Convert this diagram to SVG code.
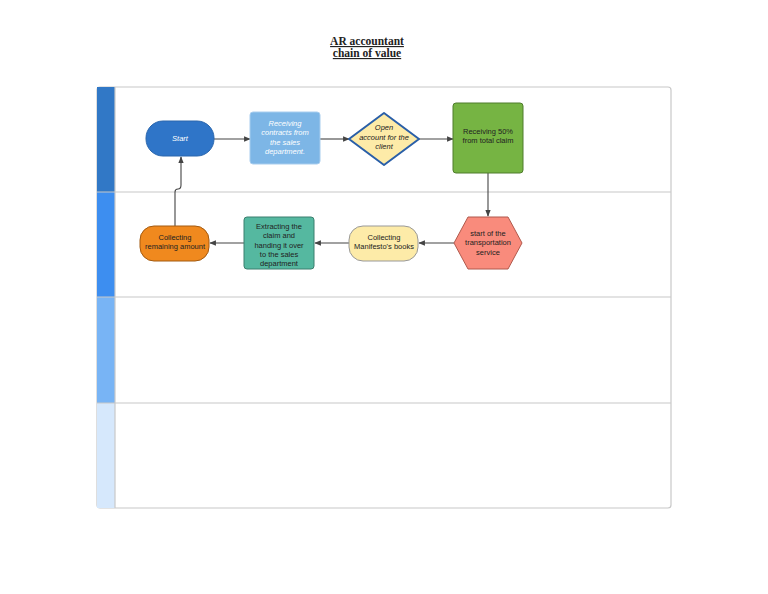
<svg xmlns="http://www.w3.org/2000/svg" width="768" height="594" viewBox="0 0 768 594">
<style>
text{font-family:"Liberation Sans",Arial,sans-serif;font-size:7.5px;fill:#222;text-anchor:middle}
.w{fill:#fff;font-style:italic}
.c{fill:none;stroke:#444;stroke-width:1.1}
.lane{fill:none;stroke:#c8c8c8;stroke-width:1.2}
</style>
<defs><marker id="a" viewBox="0 0 10 10" refX="9" refY="5" markerWidth="6" markerHeight="6" orient="auto"><path d="M0,1 L10,5 L0,9 z" fill="#444"/></marker></defs>
<rect width="768" height="594" fill="#fff"/>
<g id="title"><text x="367" y="45" style="font-family:'Liberation Serif',serif;font-size:11.5px;font-weight:bold;text-decoration:underline">AR accountant</text><text x="367" y="57" style="font-family:'Liberation Serif',serif;font-size:11.5px;font-weight:bold;text-decoration:underline">chain of value</text></g>
<g id="pool">
<rect x="97" y="87" width="574" height="421" rx="3" fill="#fff" stroke="#c8c8c8" stroke-width="1.2"/>
<rect x="97" y="87" width="18" height="105" fill="#3178C6"/>
<rect x="97" y="192" width="18" height="105" fill="#3D8EF0"/>
<rect x="97" y="297" width="18" height="106" fill="#78B4F5"/>
<rect x="97" y="403" width="18" height="105" fill="#D6E8FC"/>
<path class="lane" d="M97 192H671M97 297H671M97 403H671M115 87V508"/>
</g>
<g id="connectors">
<path class="c" marker-end="url(#a)" d="M214 139H250"/>
<path class="c" marker-end="url(#a)" d="M320 139H349"/>
<path class="c" marker-end="url(#a)" d="M419 139H453"/>
<path class="c" marker-end="url(#a)" d="M488 173V216"/>
<path class="c" marker-end="url(#a)" d="M454 243H419"/>
<path class="c" marker-end="url(#a)" d="M349 243H315"/>
<path class="c" marker-end="url(#a)" d="M244 243H210"/>
<path class="c" marker-end="url(#a)" d="M175 226V192Q175 189 178 189Q181 189 181 185V157"/>
</g>
<g id="start"><rect x="146" y="121" width="68" height="35" rx="17" fill="#2F75C8" stroke="#2a66ad"/><text class="w" x="180" y="141">Start</text></g>
<g id="receiving"><rect x="250" y="112" width="70" height="52" rx="3" fill="#7DB6E6" stroke="#a8cdee"/><text class="w" x="285" y="126">Receiving</text><text class="w" x="285" y="135">contracts from</text><text class="w" x="285" y="145">the sales</text><text class="w" x="285" y="154">department.</text></g>
<g id="open"><path d="M384 113L419 139L384 165L349 139Z" fill="#FDEBA8" stroke="#2a5fa8" stroke-width="2" stroke-linejoin="round"/><text x="384" y="130" style="font-style:italic">Open</text><text x="384" y="140" style="font-style:italic">account for the</text><text x="384" y="149" style="font-style:italic">client</text></g>
<g id="fifty"><rect x="453" y="103" width="70" height="70" rx="3" fill="#76B443" stroke="#4f7d2c"/><text x="488" y="134">Receiving 50%</text><text x="488" y="143">from total claim</text></g>
<g id="transport"><path d="M468 217H508L522 243L508 269H468L454 243Z" fill="#F98B7C" stroke="#b0594c"/><text x="488" y="236">start of the</text><text x="488" y="245">transportation</text><text x="488" y="255">service</text></g>
<g id="manifesto"><rect x="349" y="226" width="69" height="35" rx="14" fill="#FDEBA8" stroke="#999"/><text x="384" y="240">Collecting</text><text x="384" y="249">Manifesto's books</text></g>
<g id="extract"><rect x="244" y="217" width="70" height="52" rx="3" fill="#55B8A0" stroke="#3b7f6e"/><text x="279" y="229">Extracting the</text><text x="279" y="238">claim and</text><text x="279" y="248">handing it over</text><text x="279" y="257">to the sales</text><text x="279" y="266">department</text></g>
<g id="remaining"><rect x="140" y="226" width="69" height="35" rx="14" fill="#F0891E" stroke="#a35a10"/><text x="175" y="240">Collecting</text><text x="175" y="249">remaining amount</text></g>
</svg>
